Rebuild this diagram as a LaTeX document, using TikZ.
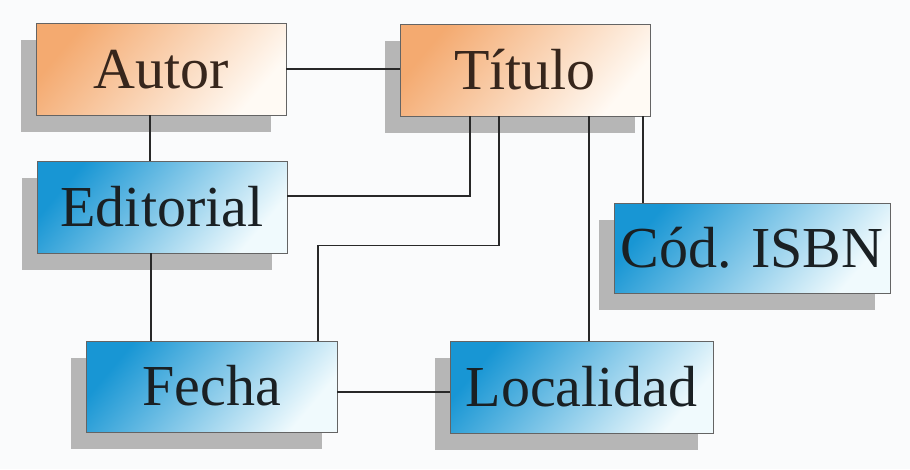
\documentclass[tikz,border=0pt]{standalone}
\usepackage{fontspec}
\setmainfont{Liberation Serif}
\usetikzlibrary{shadows}
\definecolor{bgc}{RGB}{250,251,252}
\definecolor{orA}{RGB}{244,170,112}
\definecolor{orM}{RGB}{250,210,172}
\definecolor{orB}{RGB}{255,250,244}
\definecolor{blA}{RGB}{24,150,212}
\definecolor{blM}{RGB}{110,200,236}
\definecolor{blB}{RGB}{240,250,253}
\definecolor{shc}{RGB}{182,182,182}
\definecolor{edgec}{RGB}{100,100,100}
\definecolor{linec}{RGB}{40,40,40}
\definecolor{txtbr}{RGB}{55,38,28}
\definecolor{txtbl}{RGB}{26,32,35}
\tikzset{
  boxbase/.style={draw=edgec, line width=0.8pt, rectangle, inner sep=0pt,
    font=\fontsize{58}{60}\selectfont, text height=38pt, text depth=0pt,
    drop shadow={shadow xshift=-15pt, shadow yshift=-17pt, fill=shc, opacity=1, draw=none}},
  orbox/.style={boxbase, text=txtbr, top color=orA, middle color=orM, bottom color=orB, shading angle=50},
  blbox/.style={boxbase, text=txtbl, top color=blA, middle color=blM, bottom color=blB, shading angle=50},
  conn/.style={draw=linec, line width=1.5pt}
}
\begin{document}
\begin{tikzpicture}[x=1pt, y=-1pt]
\fill[bgc] (0,0) rectangle (910,469);
\useasboundingbox (0,0) rectangle (910,469);
\node[orbox, minimum width=250pt, minimum height=92pt] (autor) at (161,69) {Autor};
\node[orbox, minimum width=250pt, minimum height=92pt] (titulo) at (525,70) {Título};
\node[blbox, minimum width=250pt, minimum height=92pt] (edit) at (162,207) {Editorial};
\node[blbox, minimum width=276pt, minimum height=90pt] (isbn) at (752,248) {Cód. ISBN};
\node[blbox, minimum width=251pt, minimum height=91pt] (fecha) at (211.5,386.5) {Fecha};
\node[blbox, minimum width=263pt, minimum height=92pt] (local) at (581.5,387) {Localidad};

\draw[conn] (autor.east) -- (autor.east -| titulo.west);
\draw[conn] ([xshift=-11pt]autor.south) -- ([xshift=-11pt]autor.south |- edit.north);
\draw[conn] ([xshift=-11pt]edit.south) -- ([xshift=-11pt]edit.south |- fecha.north);
\draw[conn] ([yshift=11pt]edit.east) -| ([xshift=-55pt]titulo.south);
\draw[conn] ([xshift=-26pt]titulo.south) -- ++(0,129) -| ([xshift=106.5pt]fecha.north);
\draw[conn] ([xshift=64pt]titulo.south) -- ([xshift=64pt]titulo.south |- local.north);
\draw[conn] ([xshift=118pt]titulo.south) -- ([xshift=118pt]titulo.south |- isbn.north);
\draw[conn] ([yshift=-5.5pt]fecha.east) -- ([yshift=-5.5pt]fecha.east -| local.west);
\end{tikzpicture}
\end{document}
